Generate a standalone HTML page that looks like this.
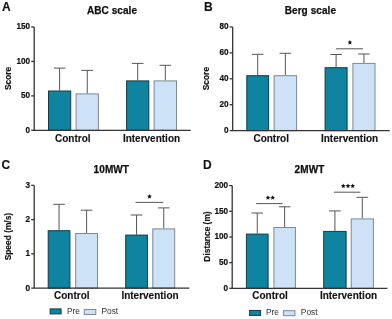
<!DOCTYPE html><html><head><meta charset="utf-8"><style>html,body{margin:0;padding:0;background:#fff;width:392px;height:319px;overflow:hidden}svg{display:block}text{font-family:"Liberation Sans",sans-serif}.b{stroke:#111;stroke-width:0.25px;letter-spacing:0.08px}.t{stroke:#111;stroke-width:0.2px}.c{stroke:#111;stroke-width:0.12px}.l{stroke:#000;stroke-width:0.1px}.y{stroke:#111;stroke-width:0.15px}</style></head><body>
<svg width="392" height="319" viewBox="0 0 392 319" style="will-change:transform">
<rect width="392" height="319" fill="#fff"/>
<g><text x="2.1" y="10.7" class="l" font-size="12" font-weight="bold" fill="#111111">A</text><text x="112" y="13.8" class="b" font-size="10" font-weight="bold" fill="#111111" text-anchor="middle">ABC scale</text><line x1="59.60" y1="90.50" x2="59.60" y2="68.10" stroke="#555555" stroke-width="1"/><line x1="53.80" y1="68.10" x2="65.40" y2="68.10" stroke="#555555" stroke-width="1"/><rect x="48.50" y="91.00" width="22.20" height="39.30" fill="#0e84a0" stroke="#123a46" stroke-width="1"/><line x1="87.25" y1="93.40" x2="87.25" y2="70.40" stroke="#555555" stroke-width="1"/><line x1="81.45" y1="70.40" x2="93.05" y2="70.40" stroke="#555555" stroke-width="1"/><rect x="76.10" y="93.90" width="22.30" height="36.40" fill="#cee2f7" stroke="#7d8893" stroke-width="1"/><line x1="137.70" y1="80.40" x2="137.70" y2="63.40" stroke="#555555" stroke-width="1"/><line x1="131.90" y1="63.40" x2="143.50" y2="63.40" stroke="#555555" stroke-width="1"/><rect x="126.60" y="80.90" width="22.20" height="49.40" fill="#0e84a0" stroke="#123a46" stroke-width="1"/><line x1="165.30" y1="80.40" x2="165.30" y2="65.30" stroke="#555555" stroke-width="1"/><line x1="159.50" y1="65.30" x2="171.10" y2="65.30" stroke="#555555" stroke-width="1"/><rect x="154.10" y="80.90" width="22.40" height="49.40" fill="#cee2f7" stroke="#7d8893" stroke-width="1"/><path d="M34.20 27.00 V130.30 H190.70" fill="none" stroke="#333333" stroke-width="1.3"/><line x1="31.20" y1="130.30" x2="34.20" y2="130.30" stroke="#333333" stroke-width="1.3"/><text x="30.10" y="132.70" class="t" font-size="8.2" font-weight="bold" fill="#111111" text-anchor="end">0</text><line x1="31.20" y1="95.87" x2="34.20" y2="95.87" stroke="#333333" stroke-width="1.3"/><text x="30.10" y="98.27" class="t" font-size="8.2" font-weight="bold" fill="#111111" text-anchor="end">50</text><line x1="31.20" y1="61.43" x2="34.20" y2="61.43" stroke="#333333" stroke-width="1.3"/><text x="30.10" y="63.83" class="t" font-size="8.2" font-weight="bold" fill="#111111" text-anchor="end">100</text><line x1="31.20" y1="27.00" x2="34.20" y2="27.00" stroke="#333333" stroke-width="1.3"/><text x="30.10" y="29.40" class="t" font-size="8.2" font-weight="bold" fill="#111111" text-anchor="end">150</text><text transform="translate(10.9,78.4) rotate(-90)" class="y" font-size="8.4" font-weight="bold" fill="#111111" text-anchor="middle">Score</text><text x="72.8" y="141.7" class="c" font-size="10" font-weight="bold" fill="#111111" text-anchor="middle">Control</text><text x="151.5" y="141.7" class="c" font-size="10" font-weight="bold" fill="#111111" text-anchor="middle">Intervention</text></g>
<g><text x="204.0" y="11.2" class="l" font-size="12" font-weight="bold" fill="#111111">B</text><text x="310.4" y="13.8" class="b" font-size="10" font-weight="bold" fill="#111111" text-anchor="middle">Berg scale</text><line x1="257.70" y1="75.20" x2="257.70" y2="54.30" stroke="#555555" stroke-width="1"/><line x1="251.90" y1="54.30" x2="263.50" y2="54.30" stroke="#555555" stroke-width="1"/><rect x="246.80" y="75.70" width="21.80" height="54.90" fill="#0e84a0" stroke="#123a46" stroke-width="1"/><line x1="285.35" y1="75.20" x2="285.35" y2="53.30" stroke="#555555" stroke-width="1"/><line x1="279.55" y1="53.30" x2="291.15" y2="53.30" stroke="#555555" stroke-width="1"/><rect x="274.10" y="75.70" width="22.50" height="54.90" fill="#cee2f7" stroke="#7d8893" stroke-width="1"/><line x1="336.10" y1="67.20" x2="336.10" y2="54.50" stroke="#555555" stroke-width="1"/><line x1="330.30" y1="54.50" x2="341.90" y2="54.50" stroke="#555555" stroke-width="1"/><rect x="325.10" y="67.70" width="22.00" height="62.90" fill="#0e84a0" stroke="#123a46" stroke-width="1"/><line x1="363.95" y1="62.90" x2="363.95" y2="54.00" stroke="#555555" stroke-width="1"/><line x1="358.15" y1="54.00" x2="369.75" y2="54.00" stroke="#555555" stroke-width="1"/><rect x="352.90" y="63.40" width="22.10" height="67.20" fill="#cee2f7" stroke="#7d8893" stroke-width="1"/><path d="M232.70 27.00 V130.60 H389.70" fill="none" stroke="#333333" stroke-width="1.3"/><line x1="229.70" y1="130.60" x2="232.70" y2="130.60" stroke="#333333" stroke-width="1.3"/><text x="228.60" y="133.00" class="t" font-size="8.2" font-weight="bold" fill="#111111" text-anchor="end">0</text><line x1="229.70" y1="104.70" x2="232.70" y2="104.70" stroke="#333333" stroke-width="1.3"/><text x="228.60" y="107.10" class="t" font-size="8.2" font-weight="bold" fill="#111111" text-anchor="end">20</text><line x1="229.70" y1="78.80" x2="232.70" y2="78.80" stroke="#333333" stroke-width="1.3"/><text x="228.60" y="81.20" class="t" font-size="8.2" font-weight="bold" fill="#111111" text-anchor="end">40</text><line x1="229.70" y1="52.90" x2="232.70" y2="52.90" stroke="#333333" stroke-width="1.3"/><text x="228.60" y="55.30" class="t" font-size="8.2" font-weight="bold" fill="#111111" text-anchor="end">60</text><line x1="229.70" y1="27.00" x2="232.70" y2="27.00" stroke="#333333" stroke-width="1.3"/><text x="228.60" y="29.40" class="t" font-size="8.2" font-weight="bold" fill="#111111" text-anchor="end">80</text><text transform="translate(209.1,78.6) rotate(-90)" class="y" font-size="8.4" font-weight="bold" fill="#111111" text-anchor="middle">Score</text><text x="271.2" y="142.0" class="c" font-size="10" font-weight="bold" fill="#111111" text-anchor="middle">Control</text><text x="349.6" y="142.0" class="c" font-size="10" font-weight="bold" fill="#111111" text-anchor="middle">Intervention</text><line x1="336.1" y1="48.8" x2="363.0" y2="48.8" stroke="#555555" stroke-width="1"/><polygon points="349.90,39.95 350.58,41.57 352.33,41.71 350.99,42.86 351.40,44.56 349.90,43.65 348.40,44.56 348.81,42.86 347.47,41.71 349.22,41.57" fill="#111111"/></g>
<g><text x="1.6" y="168.6" class="l" font-size="12" font-weight="bold" fill="#111111">C</text><text x="111.3" y="172.7" class="b" font-size="10" font-weight="bold" fill="#111111" text-anchor="middle">10MWT</text><line x1="59.05" y1="230.20" x2="59.05" y2="204.30" stroke="#555555" stroke-width="1"/><line x1="53.25" y1="204.30" x2="64.85" y2="204.30" stroke="#555555" stroke-width="1"/><rect x="48.20" y="230.70" width="21.70" height="57.40" fill="#0e84a0" stroke="#123a46" stroke-width="1"/><line x1="86.60" y1="233.00" x2="86.60" y2="210.20" stroke="#555555" stroke-width="1"/><line x1="80.80" y1="210.20" x2="92.40" y2="210.20" stroke="#555555" stroke-width="1"/><rect x="75.70" y="233.50" width="21.80" height="54.60" fill="#cee2f7" stroke="#7d8893" stroke-width="1"/><line x1="136.55" y1="234.60" x2="136.55" y2="215.00" stroke="#555555" stroke-width="1"/><line x1="130.75" y1="215.00" x2="142.35" y2="215.00" stroke="#555555" stroke-width="1"/><rect x="125.70" y="235.10" width="21.70" height="53.00" fill="#0e84a0" stroke="#123a46" stroke-width="1"/><line x1="163.75" y1="228.40" x2="163.75" y2="207.90" stroke="#555555" stroke-width="1"/><line x1="157.95" y1="207.90" x2="169.55" y2="207.90" stroke="#555555" stroke-width="1"/><rect x="152.80" y="228.90" width="21.90" height="59.20" fill="#cee2f7" stroke="#7d8893" stroke-width="1"/><path d="M34.20 185.40 V288.10 H189.30" fill="none" stroke="#333333" stroke-width="1.3"/><line x1="31.20" y1="288.10" x2="34.20" y2="288.10" stroke="#333333" stroke-width="1.3"/><text x="30.10" y="290.50" class="t" font-size="8.2" font-weight="bold" fill="#111111" text-anchor="end">0</text><line x1="31.20" y1="253.87" x2="34.20" y2="253.87" stroke="#333333" stroke-width="1.3"/><text x="30.10" y="256.27" class="t" font-size="8.2" font-weight="bold" fill="#111111" text-anchor="end">1</text><line x1="31.20" y1="219.63" x2="34.20" y2="219.63" stroke="#333333" stroke-width="1.3"/><text x="30.10" y="222.03" class="t" font-size="8.2" font-weight="bold" fill="#111111" text-anchor="end">2</text><line x1="31.20" y1="185.40" x2="34.20" y2="185.40" stroke="#333333" stroke-width="1.3"/><text x="30.10" y="187.80" class="t" font-size="8.2" font-weight="bold" fill="#111111" text-anchor="end">3</text><text transform="translate(10.7,236.6) rotate(-90)" class="y" font-size="8.4" font-weight="bold" fill="#111111" text-anchor="middle">Speed (m/s)</text><text x="71.8" y="298.8" class="c" font-size="10" font-weight="bold" fill="#111111" text-anchor="middle">Control</text><text x="150.0" y="298.8" class="c" font-size="10" font-weight="bold" fill="#111111" text-anchor="middle">Intervention</text><line x1="135.5" y1="202.4" x2="163.2" y2="202.4" stroke="#555555" stroke-width="1"/><polygon points="149.50,193.95 150.18,195.57 151.93,195.71 150.59,196.86 151.00,198.56 149.50,197.65 148.00,198.56 148.41,196.86 147.07,195.71 148.82,195.57" fill="#111111"/><rect x="50.1" y="308.9" width="11" height="5" fill="#0e84a0" stroke="#123a46" stroke-width="1"/><text x="66.9" y="313.8" font-size="8.4" fill="#333">Pre</text><rect x="84.3" y="309.5" width="11.5" height="5" fill="#cee2f7" stroke="#7d8893" stroke-width="1"/><text x="101.4" y="313.8" font-size="8.4" fill="#333">Post</text></g>
<g><text x="203.1" y="168.6" class="l" font-size="12" font-weight="bold" fill="#111111">D</text><text x="309.5" y="172.7" class="b" font-size="10" font-weight="bold" fill="#111111" text-anchor="middle">2MWT</text><line x1="257.25" y1="233.60" x2="257.25" y2="213.00" stroke="#555555" stroke-width="1"/><line x1="251.45" y1="213.00" x2="263.05" y2="213.00" stroke="#555555" stroke-width="1"/><rect x="246.40" y="234.10" width="21.70" height="54.20" fill="#0e84a0" stroke="#123a46" stroke-width="1"/><line x1="284.65" y1="227.00" x2="284.65" y2="206.80" stroke="#555555" stroke-width="1"/><line x1="278.85" y1="206.80" x2="290.45" y2="206.80" stroke="#555555" stroke-width="1"/><rect x="273.90" y="227.50" width="21.50" height="60.80" fill="#cee2f7" stroke="#7d8893" stroke-width="1"/><line x1="334.90" y1="230.90" x2="334.90" y2="210.90" stroke="#555555" stroke-width="1"/><line x1="329.10" y1="210.90" x2="340.70" y2="210.90" stroke="#555555" stroke-width="1"/><rect x="323.70" y="231.40" width="22.40" height="56.90" fill="#0e84a0" stroke="#123a46" stroke-width="1"/><line x1="362.30" y1="218.40" x2="362.30" y2="197.30" stroke="#555555" stroke-width="1"/><line x1="356.50" y1="197.30" x2="368.10" y2="197.30" stroke="#555555" stroke-width="1"/><rect x="351.20" y="218.90" width="22.20" height="69.40" fill="#cee2f7" stroke="#7d8893" stroke-width="1"/><path d="M232.20 185.60 V288.30 H387.40" fill="none" stroke="#333333" stroke-width="1.3"/><line x1="229.20" y1="288.30" x2="232.20" y2="288.30" stroke="#333333" stroke-width="1.3"/><text x="228.10" y="290.70" class="t" font-size="8.2" font-weight="bold" fill="#111111" text-anchor="end">0</text><line x1="229.20" y1="262.62" x2="232.20" y2="262.62" stroke="#333333" stroke-width="1.3"/><text x="228.10" y="265.02" class="t" font-size="8.2" font-weight="bold" fill="#111111" text-anchor="end">50</text><line x1="229.20" y1="236.95" x2="232.20" y2="236.95" stroke="#333333" stroke-width="1.3"/><text x="228.10" y="239.35" class="t" font-size="8.2" font-weight="bold" fill="#111111" text-anchor="end">100</text><line x1="229.20" y1="211.28" x2="232.20" y2="211.28" stroke="#333333" stroke-width="1.3"/><text x="228.10" y="213.68" class="t" font-size="8.2" font-weight="bold" fill="#111111" text-anchor="end">150</text><line x1="229.20" y1="185.60" x2="232.20" y2="185.60" stroke="#333333" stroke-width="1.3"/><text x="228.10" y="188.00" class="t" font-size="8.2" font-weight="bold" fill="#111111" text-anchor="end">200</text><text transform="translate(209.9,236.5) rotate(-90)" class="y" font-size="8.4" font-weight="bold" fill="#111111" text-anchor="middle">Distance (m)</text><text x="270.0" y="299.1" class="c" font-size="10" font-weight="bold" fill="#111111" text-anchor="middle">Control</text><text x="348.5" y="299.1" class="c" font-size="10" font-weight="bold" fill="#111111" text-anchor="middle">Intervention</text><line x1="256.1" y1="203.6" x2="282.6" y2="203.6" stroke="#555555" stroke-width="1"/><polygon points="267.95,195.15 268.63,196.77 270.38,196.91 269.04,198.06 269.45,199.76 267.95,198.85 266.45,199.76 266.86,198.06 265.52,196.91 267.27,196.77" fill="#111111"/><polygon points="272.65,195.15 273.33,196.77 275.08,196.91 273.74,198.06 274.15,199.76 272.65,198.85 271.15,199.76 271.56,198.06 270.22,196.91 271.97,196.77" fill="#111111"/><line x1="333.9" y1="192.2" x2="360.4" y2="192.2" stroke="#555555" stroke-width="1"/><polygon points="343.30,183.45 343.98,185.07 345.73,185.21 344.39,186.36 344.80,188.06 343.30,187.15 341.80,188.06 342.21,186.36 340.87,185.21 342.62,185.07" fill="#111111"/><polygon points="348.00,183.45 348.68,185.07 350.43,185.21 349.09,186.36 349.50,188.06 348.00,187.15 346.50,188.06 346.91,186.36 345.57,185.21 347.32,185.07" fill="#111111"/><polygon points="352.70,183.45 353.38,185.07 355.13,185.21 353.79,186.36 354.20,188.06 352.70,187.15 351.20,188.06 351.61,186.36 350.27,185.21 352.02,185.07" fill="#111111"/><rect x="249.6" y="310.4" width="11" height="5" fill="#0e84a0" stroke="#123a46" stroke-width="1"/><text x="265.9" y="315.3" font-size="8.4" fill="#333">Pre</text><rect x="283.4" y="310.7" width="11.5" height="5" fill="#cee2f7" stroke="#7d8893" stroke-width="1"/><text x="300.8" y="315.3" font-size="8.4" fill="#333">Post</text></g>
</svg></body></html>
